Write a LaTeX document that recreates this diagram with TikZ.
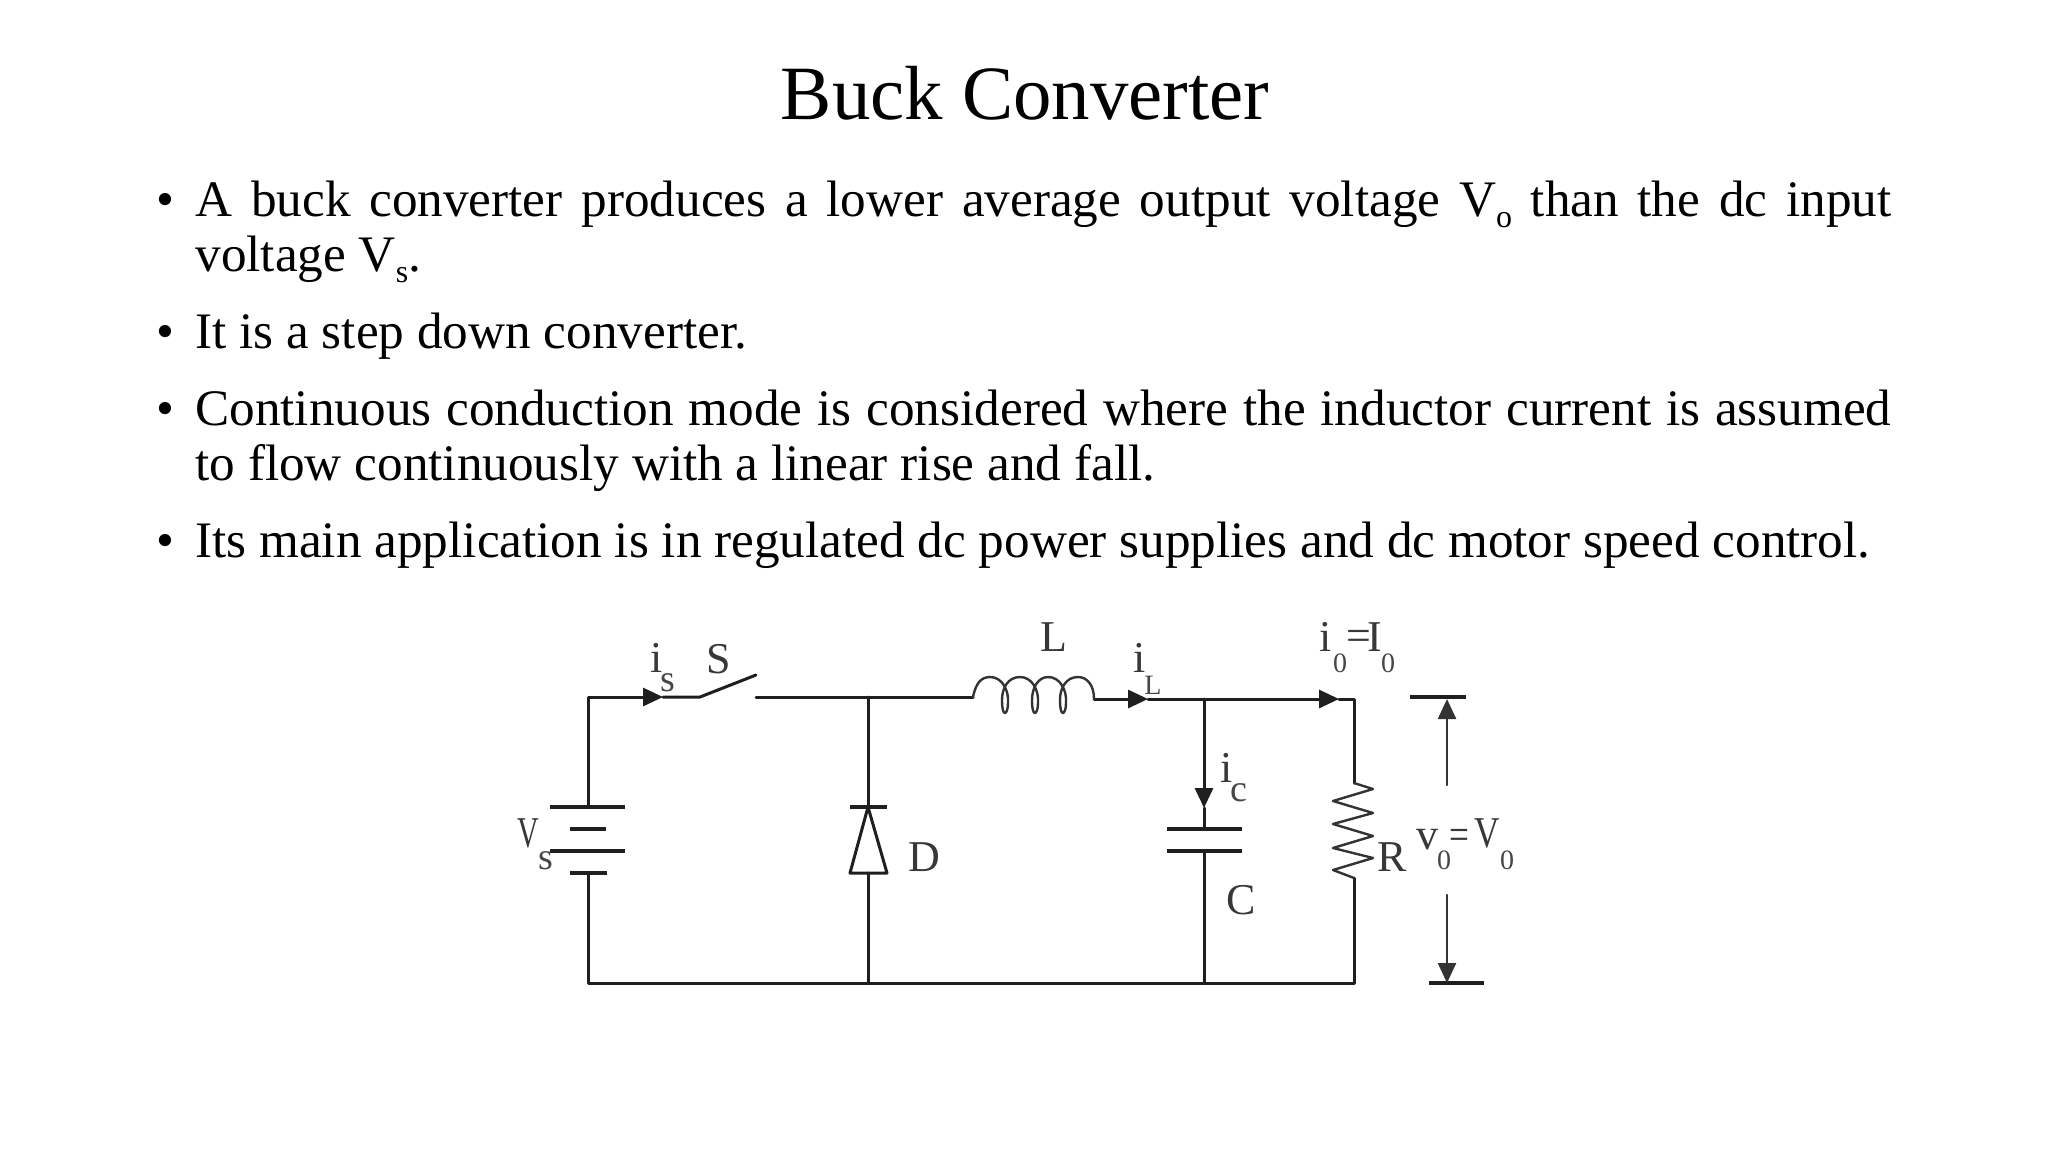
\documentclass[tikz,border=0pt]{standalone}
\usepackage{fontspec}
\setmainfont{Liberation Serif}
\usetikzlibrary{arrows.meta}
\newcommand{\bodyfont}{\fontsize{25.6}{30}\selectfont}
\newcommand{\lowsub}[1]{\raisebox{-0.22em}{\fontsize{16}{17}\selectfont #1}}
\newcommand{\fulline}[1]{\makebox[848pt][s]{#1}}
\newcommand{\narrowV}{\scalebox{0.68}[1]{V}}
\newcommand{\midV}{\scalebox{0.8}[1]{V}}
\newcommand{\midEq}{\scalebox{0.8}[1]{=}}
\tikzset{
  wire/.style={draw=black!88,line width=1.5pt,line cap=round,line join=round},
  plate/.style={draw=black!88,line width=1.6pt},
  thin wire/.style={draw=black!80,line width=1.2pt,line cap=round,line join=round},
  headed/.style={-{Triangle[length=10pt,width=9pt]}},
  bodytext/.style={anchor=base west,inner sep=0pt,font=\bodyfont,text=black},
  bullet/.style={anchor=base,inner sep=0pt,font=\bodyfont,text=black},
  lab/.style={anchor=center,inner sep=0pt,font=\fontsize{22}{24}\selectfont,text=black!78},
  sublab/.style={anchor=center,inner sep=0pt,font=\fontsize{14}{16}\selectfont,text=black!72},
  ssub/.style={anchor=center,inner sep=0pt,font=\fontsize{19}{20}\selectfont,text=black!72},
}
\begin{document}
\begin{tikzpicture}[x=0.5pt,y=-0.5pt]
\useasboundingbox[fill=white] (0,0) rectangle (2048,1152);
% title
\node[anchor=base,inner sep=0pt,font=\fontsize{38.4}{44}\selectfont] (title) at (1025,119) {Buck Converter};
% bullets
\node[bullet] (b1) at (165,216) {•};
\node[bodytext] (t1) at (195,216) {\fulline{A buck converter produces a lower average output voltage V\lowsub{o} than the dc input}};
\node[bodytext] (t2) at (195,271) {voltage V\lowsub{s}.};
\node[bullet] (b2) at (165,348) {•};
\node[bodytext] (t3) at (195,348) {It is a step down converter.};
\node[bullet] (b3) at (165,425) {•};
\node[bodytext] (t4) at (195,425) {\fulline{Continuous conduction mode is considered where the inductor current is assumed}};
\node[bodytext] (t5) at (195,480) {to flow continuously with a linear rise and fall.};
\node[bullet] (b4) at (165,557) {•};
\node[bodytext] (t6) at (195,557) {Its main application is in regulated dc power supplies and dc motor speed control.};
% circuit points
\coordinate (cTL) at (588,697);
\coordinate (cBL) at (588,983);
\coordinate (aS) at (663,697);
\coordinate (swA) at (700,697);
\coordinate (swB) at (756,675);
\coordinate (swC) at (756,697);
\coordinate (jD) at (868,697);
\coordinate (lA) at (973,697);
\coordinate (lB) at (1094,699);
\coordinate (aL) at (1148,699);
\coordinate (jC) at (1204,699);
\coordinate (aO) at (1339,699);
\coordinate (cTR) at (1354,699);
\coordinate (rT) at (1354,783);
\coordinate (rB) at (1354,878);
\coordinate (cBR) at (1354,983);
\coordinate (jDb) at (868,983);
\coordinate (jCb) at (1204,983);
\coordinate (aC) at (1204,808);
\coordinate (pC1) at (1204,829);
\coordinate (pC2) at (1204,851);
\coordinate (batT) at (588,807);
\coordinate (batB) at (588,873);
\coordinate (dK) at (868,807);
\coordinate (dA) at (868,873);
% wires
\draw[wire,headed] (batT) -- (cTL) -- (aS);
\draw[wire] (aS) -- (swA) -- (swB);
\draw[wire] (swC) -- (jD) -- (lA);
\draw[wire] (jD) -- (dK);
\draw[wire] (dA) -- (jDb);
\draw[wire] (batB) -- (cBL) -- (jDb) -- (jCb) -- (cBR) -- (rB);
\draw[wire,headed] (lB) -- (aL);
\draw[wire,headed] (aL) -- (aO);
\draw[wire] (aO) -- (cTR) -- (rT);
\draw[wire,headed] (jC) -- (aC);
\draw[wire] (aC) -- (pC1);
\draw[wire] (pC2) -- (jCb);
% battery
\draw[plate] (550,807) -- (625,807);
\draw[plate] (570,829) -- (606,829);
\draw[plate] (550,851) -- (625,851);
\draw[plate] (570,873) -- (607,873);
% diode
\draw[plate] (850,807) -- (887,807);
\draw[wire] (dK) -- (850,873) -- (887,873) -- cycle;
% inductor
\draw[thin wire] (lA) .. controls (976,682) and (982,677) .. (990,677);
\foreach \dx/\w in {0/30,30/28,58/30}{
  \draw[thin wire,xshift=\dx*0.5pt] (990,677) .. controls (1002,677) and (1009,690) .. (1008,703)
    .. controls (1008,710) and (1006,713) .. (1005,713)
    .. controls (1003,713) and (1002,708) .. (1002,700)
    .. controls (1002,688) and (1008,677) .. ({990+\w},677);
}
\draw[thin wire] (1078,677) .. controls (1087,677) and (1094,685) .. (lB);
% resistor
\draw[thin wire] (rT) -- (1373,789) -- (1333,801) -- (1373,813) -- (1333,824) -- (1373,836) -- (1333,848) -- (1373,858) -- (1333,870) -- (rB);
% capacitor
\draw[plate] (1167,829) -- (1242,829);
\draw[plate] (1167,851) -- (1242,851);
% voltage marker
\coordinate (vT) at (1447,785);
\coordinate (vTt) at (1447,699);
\coordinate (vB) at (1447,895);
\coordinate (vBt) at (1447,983);
\draw[plate] (1410,697) -- (1466,697);
\draw[plate] (1429,983) -- (1484,983);
\draw[thin wire,headed] (vT) -- (vTt);
\draw[thin wire,headed] (vB) -- (vBt);
% labels
\node[lab] (li) at (657,658) {i};
\node[ssub] (lis) at (668,683) {s};
\node[lab] (lS) at (719,659) {S};
\node[lab] (lL) at (1054,637) {L};
\node[lab] (lil) at (1140,658) {i};
\node[sublab] (lilL) at (1153,685) {L};
\node[lab] (lio) at (1326,637) {i};
\node[sublab] (lio0) at (1340,663) {0};
\node[lab] (leq) at (1359,640) {=};
\node[lab] (lIo) at (1375,637) {I};
\node[sublab] (lIo0) at (1388,663) {0};
\node[lab] (lic) at (1227,768) {i};
\node[ssub] (licc) at (1239,793) {c};
\node[lab] (lC) at (1241,900) {C};
\node[lab] (lD) at (924,857) {D};
\node[lab] (lR) at (1392,857) {R};
\node[lab] (lV) at (528,833) {\narrowV};
\node[ssub] (lVs) at (546,861) {s};
\node[lab] (lv) at (1427,840) {v};
\node[sublab] (lv0) at (1444,860) {0};
\node[lab] (leq2) at (1459,839) {\midEq};
\node[lab] (lVo) at (1487,833) {\midV};
\node[sublab] (lVo0) at (1507,860) {0};
\end{tikzpicture}
\end{document}
